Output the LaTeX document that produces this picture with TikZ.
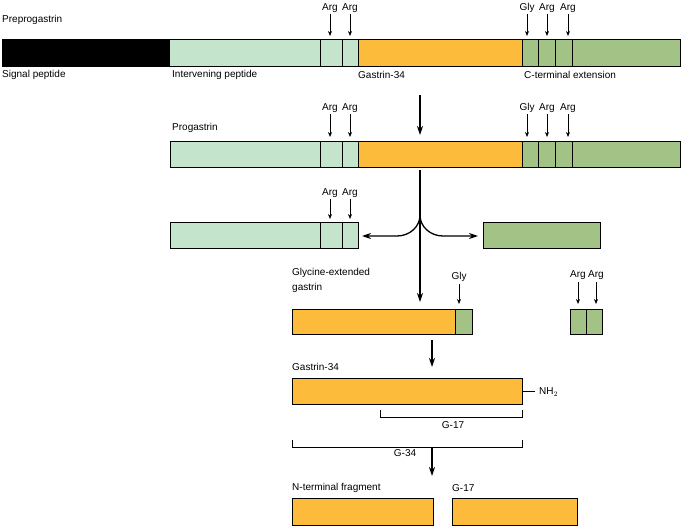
\documentclass[tikz,border=0pt]{standalone}
\usepackage{fontspec}
\setmainfont{Liberation Sans}
\usetikzlibrary{arrows.meta}
\definecolor{lg}{HTML}{C5E4CC}
\definecolor{og}{HTML}{FDBB3C}
\definecolor{dg}{HTML}{A3C286}
\begin{document}
\begin{tikzpicture}[x=1pt,y=-1pt,
 seg/.style={draw=black,line width=0.5pt},
 lab/.style={font=\fontsize{10}{11}\selectfont,inner sep=0pt},
 sm/.style={-{Stealth[length=5pt,width=4pt]},line width=0.7pt},
 big/.style={-{Stealth[length=9pt,width=6pt]},line width=1.3pt}]
\useasboundingbox (0,0) rectangle (685,527);
% row 1
\node[lab,anchor=west] (t1) at (2,20) {Preprogastrin};
\fill[black] (2,39) rectangle (170,66);
\fill[lg] (170,39) rectangle (358,66);
\fill[og] (358,39) rectangle (522,66);
\fill[dg] (522,39) rectangle (680,66);
\draw[seg] (2,39) rectangle (680,66);
\foreach \x in {320,342,358,522,538,555,572} \draw[seg] (\x,39)--(\x,66);
\foreach \x/\t in {330/Arg,350/Arg,527/Gly,547/Arg,568/Arg}{
 \node[lab] (a\x) at (\x,8) {\t};
 \coordinate (b\x) at (\x,36);
 \draw[sm] (\x,14)--(b\x);}
\node[lab,anchor=west] (l1) at (2,75) {Signal peptide};
\node[lab,anchor=west] (l2) at (172,75) {Intervening peptide};
\node[lab,anchor=west] (l3) at (358,75) {Gastrin-34};
\node[lab,anchor=west] (l4) at (524,75) {C-terminal extension};
\coordinate (p1) at (420,95); \coordinate (p2) at (420,135);
\draw[big] (p1)--(p2);
% row 2
\node[lab,anchor=west] (t2) at (172,128) {Progastrin};
\fill[lg] (170,141) rectangle (358,167);
\fill[og] (358,141) rectangle (522,167);
\fill[dg] (522,141) rectangle (680,167);
\draw[seg] (170,141) rectangle (680,167);
\foreach \x in {320,342,358,522,538,555,572} \draw[seg] (\x,141)--(\x,167);
\foreach \x/\t in {330/Arg,350/Arg,527/Gly,547/Arg,568/Arg}{
 \node[lab] (c\x) at (\x,108) {\t};
 \draw[sm] (\x,114)--(\x,137);}
% row 3
\foreach \x in {330,350}{
 \node[lab] (d\x) at (\x,193) {Arg};
 \draw[sm] (\x,199)--(\x,219);}
\fill[lg] (170,222) rectangle (358,248);
\draw[seg] (170,222) rectangle (358,248);
\foreach \x in {320,342} \draw[seg] (\x,222)--(\x,248);
\fill[dg] (483,222) rectangle (600,248);
\draw[seg] (483,222) rectangle (600,248);
\coordinate (q0) at (420,170);
\draw[line width=1.3pt] (q0)--(420,300);
\draw[big] (420,215) to[out=-90,in=0] (397,236) -- (362,236);
\draw[big] (420,215) to[out=-90,in=180] (443,236) -- (478,236);
\draw[big] (420,280)--(420,302);
% glycine-extended
\node[lab,anchor=west] (t3) at (292,273) {Glycine-extended};
\node[lab,anchor=west] (t4) at (292,288) {gastrin};
\node[lab] (g1) at (459,277) {Gly};
\draw[sm] (459,284)--(459,304);
\fill[og] (292,309) rectangle (455,334);
\fill[dg] (455,309) rectangle (472,334);
\draw[seg] (292,309) rectangle (472,334);
\draw[seg] (455,309)--(455,334);
\foreach \x in {578,596}{
 \node[lab] (e\x) at (\x,275) {Arg};
 \draw[sm] (\x,282)--(\x,304);}
\fill[dg] (570,309) rectangle (602,334);
\draw[seg] (570,309) rectangle (602,334);
\draw[seg] (586,309)--(586,334);
\draw[big] (432,340)--(432,367);
% gastrin-34
\node[lab,anchor=west] (t5) at (292,367) {Gastrin-34};
\fill[og] (292,378) rectangle (522,404);
\draw[seg] (292,378) rectangle (522,404);
\draw[seg] (522,391)--(535,391);
\node[lab,anchor=west] (nh) at (539,392) {NH$_2$};
\draw[line width=0.4pt] (380,410)--(380,417)--(522,417)--(522,410);
\node[lab] (g17) at (453,425) {G-17};
\draw[line width=0.4pt] (292,440)--(292,447)--(522,447)--(522,440);
\node[lab] (g34) at (405,453) {G-34};
\draw[big] (432,448)--(432,476);
\node[lab,anchor=west] (t6) at (292,488) {N-terminal fragment};
\node[lab,anchor=west] (t7) at (452,488) {G-17};
\fill[og] (292,498) rectangle (433,525);
\draw[seg] (292,498) rectangle (433,525);
\fill[og] (452,498) rectangle (577,525);
\draw[seg] (452,498) rectangle (577,525);
\end{tikzpicture}
\end{document}
